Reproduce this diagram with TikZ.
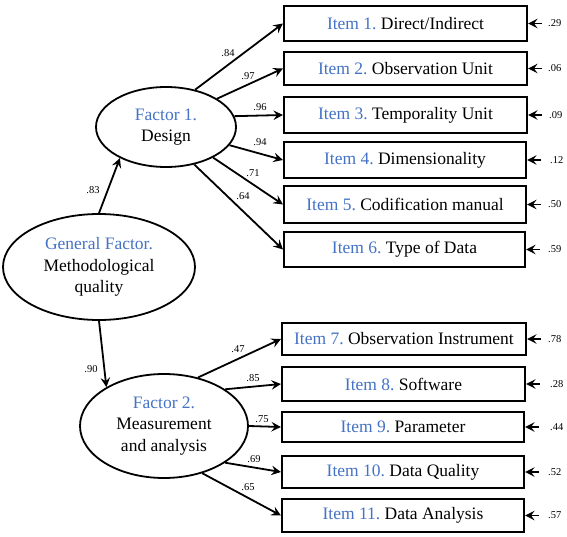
\documentclass[tikz,border=0pt]{standalone}
\usepackage{fontspec}
\setmainfont{Liberation Serif}
\usetikzlibrary{arrows.meta,shapes.geometric}
\definecolor{itemblue}{RGB}{68,114,196}
\frenchspacing
\begin{document}
\begin{tikzpicture}[x=1pt,y=-1pt,
 box/.style={draw, line width=2.1pt, inner sep=0pt, font=\fontsize{17.5}{21}\selectfont},
 lat/.style={draw, ellipse, line width=1.8pt, inner sep=0pt, align=center, font=\fontsize{17.5}{21.5}\selectfont},
 arr/.style={line width=1.8pt, -{Stealth[length=9.5pt,width=9.5pt,inset=3.5pt]}},
 lab/.style={font=\fontsize{10.5}{12}\selectfont, inner sep=0pt},
 elab/.style={lab, anchor=west}]
\useasboundingbox (0,0) rectangle (567,537);

% latent variables
\node[lat, minimum width=192pt, minimum height=106pt] (g) at (99,267) {\textcolor{itemblue}{General Factor.}\\Methodological\\quality};
\node[lat, minimum width=140pt, minimum height=80pt] (f1) at (166,127) {\textcolor{itemblue}{Factor 1.}\\Design};
\node[lat, minimum width=168pt, minimum height=104pt] (f2) at (164,426) {\textcolor{itemblue}{Factor 2.}\\Measurement\\and analysis};

% items
\node[box, minimum width=243pt, minimum height=35pt] (b1) at (405.5,23.5) {\textcolor{itemblue}{Item 1.} Direct/Indirect};
\node[box, minimum width=243pt, minimum height=33pt] (b2) at (405.5,68.5) {\textcolor{itemblue}{Item 2.} Observation Unit};
\node[box, minimum width=243pt, minimum height=36pt] (b3) at (405.5,115) {\textcolor{itemblue}{Item 3.} Temporality Unit};
\node[box, minimum width=242pt, minimum height=36pt] (b4) at (405,160) {\textcolor{itemblue}{Item 4.} Dimensionality};
\node[box, minimum width=242pt, minimum height=37pt] (b5) at (405,204.5) {\textcolor{itemblue}{Item 5.} Codification manual};
\node[box, minimum width=241pt, minimum height=35pt] (b6) at (404.5,249.5) {\textcolor{itemblue}{Item 6.} Type of Data};
\node[box, minimum width=244pt, minimum height=32pt] (b7) at (404,339) {\textcolor{itemblue}{Item 7.} Observation Instrument};
\node[box, minimum width=243pt, minimum height=34pt] (b8) at (403.5,384) {\textcolor{itemblue}{Item 8.} Software};
\node[box, minimum width=242pt, minimum height=30pt] (b9) at (403,427) {\textcolor{itemblue}{Item 9.} Parameter};
\node[box, minimum width=242pt, minimum height=32pt] (b10) at (403,472) {\textcolor{itemblue}{Item 10.} Data Quality};
\node[box, minimum width=242pt, minimum height=33pt] (b11) at (403,515.5) {\textcolor{itemblue}{Item 11.} Data Analysis};

% general factor loadings
\draw[arr] (g.north) -- (f1.214.5);
\draw[arr] (g.south) -- (f2.146.8);
\node[lab] (lg1) at (93,190) {.83};
\node[lab] (lg2) at (91,369) {.90};

% factor 1 loadings
\draw[arr] (f1.52.7) -- (b1.west);
\draw[arr] (f1.29.6) -- (b2.west);
\draw[arr] (f1.9) -- (b3.west);
\draw[arr] (f1.-16) -- (b4.west);
\draw[arr] (f1.-33) -- (b5.west);
\draw[arr] (f1.-53) -- (b6.west);
\node[lab] (l1) at (228,53) {.84};
\node[lab] (l2) at (248,76) {.97};
\node[lab] (l3) at (260,107) {.96};
\node[lab] (l4) at (260,142) {.94};
\node[lab] (l5) at (253,173) {.71};
\node[lab] (l6) at (243,196) {.64};

% factor 2 loadings
\draw[arr] (f2.55) -- (b7.west);
\draw[arr] (f2.31) -- (b8.west);
\draw[arr] (f2.0) -- (b9.west);
\draw[arr] (f2.-31) -- (b10.west);
\draw[arr] (f2.-51) -- (b11.west);
\node[lab] (l7) at (238,349) {.47};
\node[lab] (l8) at (253,378) {.85};
\node[lab] (l9) at (262,419) {.75};
\node[lab] (l10) at (254,459) {.69};
\node[lab] (l11) at (248,487) {.65};

% error terms
\foreach \i/\v/\x in {1/.29/548,2/.06/548,3/.09/549,4/.12/550,5/.50/548,6/.59/548,7/.78/548,8/.28/550,9/.44/550,10/.52/548,11/.57/548}{
  \coordinate (e\i) at ([xshift=14pt]b\i.east);
  \draw[arr] (e\i) -- (b\i.east);
  \node[elab] (el\i) at (\x, 0 |- b\i.east) {\v};
}
\end{tikzpicture}
\end{document}
